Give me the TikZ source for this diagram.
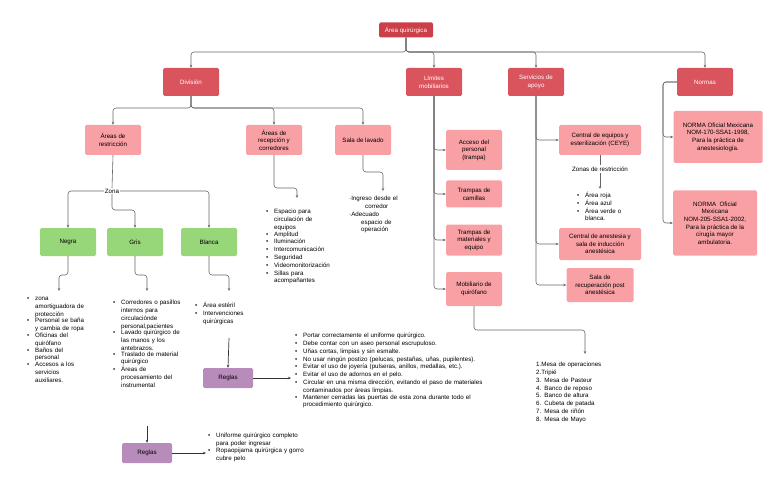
\documentclass[tikz,border=0pt]{standalone}
\usepackage{fontspec}
\setmainfont{Liberation Sans}
\usetikzlibrary{arrows.meta}
\definecolor{cTop}{RGB}{204,62,72}
\definecolor{cLvl}{RGB}{218,84,94}
\definecolor{cPk}{RGB}{249,160,164}
\definecolor{cGr}{RGB}{152,214,122}
\definecolor{cPu}{RGB}{184,140,186}
\newcommand\bitem[2]{\noindent\hbox to 9pt{\,\textbullet\hss}\parbox[t]{#1}{\raggedright\hyphenpenalty=10000\exhyphenpenalty=10000 #2}\par}
\begin{document}
\begin{tikzpicture}[x=1pt,y=-1pt,
 box/.style={rectangle,rounded corners=1.5pt,align=center,font=\fontsize{6.2}{7.6}\selectfont,inner sep=1pt},
 top/.style={box,fill=cTop,text=white,minimum width=54pt,minimum height=15pt},
 lvl/.style={box,fill=cLvl,text=white,minimum width=56pt,minimum height=28pt},
 pk/.style={box,fill=cPk,text=black,minimum width=56pt,minimum height=30pt},
 gr/.style={box,fill=cGr,minimum width=56pt,minimum height=28pt},
 pu/.style={box,fill=cPu,minimum width=50pt,minimum height=20pt},
 txt/.style={font=\fontsize{6.2}{7.8}\selectfont,align=left,inner sep=0pt,anchor=north west,text width=#1},
 ln/.style={draw=gray!80!black,line width=0.6pt,rounded corners=3pt},
 ar/.style={ln,-{Stealth[length=3pt,width=2.5pt]}},
 dk/.style={draw=black!80,line width=0.7pt,-{Stealth[length=3pt,width=2.5pt]}}]
\useasboundingbox (0,0) rectangle (768,497);
\node[top] (aq) at (406,30) {Área quirúrgica};
\node[lvl] (div) at (191,82) {División};
\node[lvl] (lim) at (434,82) {Límites\\mobiliarios};
\node[lvl] (ser) at (536,82) {Servicios de\\apoyo};
\node[lvl] (nor) at (705,82) {Normas};
\foreach \n in {div,lim,ser,nor} \draw[ar] (aq.south) -- (406,52) -| (\n.north);
\node[pk] (res) at (113,140) {Áreas de\\restricción};
\node[pk] (rec) at (274,140) {Áreas de\\recepción y\\corredores};
\node[pk] (lav) at (363,140) {Sala de lavado};
\foreach \n in {res,rec,lav} \draw[ar] (div.south) -- (191,108) -| (\n.north);
% Zona
\node[font=\fontsize{6.2}{7.6}\selectfont,fill=white,inner sep=0.5pt] (zona) at (112,191) {Zona};
\draw[ln] (res.south) -- (zona.north);
\node[gr] (neg) at (68,242) {Negra};
\node[gr] (gri) at (135,242) {Gris};
\node[gr] (bla) at (209,242) {Blanca};
\draw[ar] (zona.west) -| (neg.north);
\draw[ar] (zona.east) -| (bla.north);
\draw[ar] (zona.south) |- (135,210) -- (gri.north);
\coordinate (tn) at (59,291); \coordinate (tg) at (147,291); \coordinate (tb) at (229,291);
\draw[ar] (neg.south) |- (59,275) -- (tn);
\draw[ar] (gri.south) |- (147,275) -- (tg);
\draw[ar] (bla.south) |- (229,275) -- (tb);
\node[txt=70pt] (negt) at (26,297) {\bitem{50pt}{zona amortiguadora de protección}\bitem{50pt}{Personal se baña y cambia de ropa}\bitem{50pt}{Oficinas del quirófano}\bitem{50pt}{Baños del personal}\bitem{50pt}{Accesos a los servicios auxiliares.}};
\node[txt=80pt] (grit) at (112,300) {\bitem{62pt}{Corredores o pasillos internos para circulaciónde personal,pacientes}\bitem{62pt}{Lavado quirúrgico de las manos y los antebrazos.}\bitem{62pt}{Traslado de material quirúrgico}\bitem{62pt}{Áreas de procesamiento del instrumental}};
\node[txt=70pt] (blat) at (194,302) {\bitem{52pt}{Área estéril}\bitem{52pt}{Intervenciones quirúrgicas}};
\node[pu] (rb) at (228,378) {Reglas};
\node[pu] (rg) at (147,453) {Reglas};
\coordinate (rbt) at (229,338); \coordinate (rgt) at (147,426);
\draw[dk] (rbt) -- (rb.north);
\draw[dk] (rgt) -- (rg.north);
\coordinate (rbe) at (291,378); \coordinate (rge) at (206,453);
\draw[dk] (rb.east) -- (rbe);
\draw[dk] (rg.east) -- (rge);
\node[txt=200pt] (rbtx) at (294,333) {\bitem{190pt}{Portar correctamente el uniforme quirúrgico.}\bitem{190pt}{Debe contar con un aseo personal escrupuloso.}\bitem{190pt}{Uñas cortas, limpias y sin esmalte.}\bitem{190pt}{No usar ningún postizo (pelucas, pestañas, uñas, pupilentes).}\bitem{190pt}{Evitar el uso de joyería (pulseras, anillos, medallas, etc.).}\bitem{190pt}{Evitar el uso de adornos en el pelo.}\bitem{190pt}{Circular en una misma dirección, evitando el paso de materiales contaminados por áreas limpias.}\bitem{190pt}{Mantener cerradas las puertas de esta zona durante todo el procedimiento quirúrgico.}};
\node[txt=110pt] (rgtx) at (207,433) {\bitem{88pt}{Uniforme quirúrgico completo para poder ingresar}\bitem{95pt}{Ropaopijama quirúrgica y gorro cubre pelo}};
% recepcion, lavado
\coordinate (rect) at (297,198);
\draw[ar] (rec.south) |- (285,188) -| (rect);
\node[txt=85pt] (rectx) at (265,209) {\bitem{62pt}{Espacio para circulación de equipos}\bitem{72pt}{Amplitud}\bitem{72pt}{Iluminación}\bitem{72pt}{Intercomunicación}\bitem{72pt}{Seguridad}\bitem{72pt}{Videomonitorización}\bitem{62pt}{Sillas para acompañantes}};
\coordinate (lavt) at (383,191);
\draw[ar] (lav.south) |- (373,172) -| (lavt);
\node[txt=70pt] (lavtx) at (349,196) {·Ingreso desde el\\\hspace*{16pt}corredor\\·Adecuado\\\hspace*{12pt}espacio de\\\hspace*{12pt}operación};
% limites
\node[pk,minimum width=56pt,minimum height=40pt] (acc) at (474,150) {Acceso del\\personal\\(trampa)};
\node[pk,minimum height=27pt] (cam) at (474,194) {Trampas de\\camillas};
\node[pk,minimum height=31pt] (mat) at (474,240) {Trampas de\\materiales y\\equipo};
\node[pk,minimum height=34pt] (mob) at (474,289) {Mobiliario de\\quirófano};
\foreach \n in {acc,cam,mat,mob} \draw[ar] (lim.south) |- (\n.west);
\coordinate (mobt) at (585,354);
\draw[ar] (mob.south) |- (585,330) -- (mobt);
\node[txt=100pt] (mobtx) at (536,362) {1.Mesa de operaciones\\2.Tripié\\3. Mesa de Pasteur\\4. Banco de reposo\\5. Banco de altura\\6. Cubeta de patada\\7. Mesa de riñón\\8. Mesa de Mayo};
% servicios
\node[pk,minimum width=82pt] (cey) at (600,140) {Central de equipos y\\esterilización (CEYE)};
\node[pk,minimum width=82pt,minimum height=32pt] (ane) at (600,244) {Central de anestesia y\\sala de inducción\\anestésica};
\node[pk,minimum width=67pt,minimum height=34pt] (rcp) at (600,285) {Sala de\\recuperación post\\anestésica};
\foreach \n in {cey,ane,rcp} \draw[ar] (ser.south) |- (\n.west);
\node[font=\fontsize{6.2}{7.6}\selectfont,fill=white,inner sep=1pt] (zr) at (600,169) {Zonas de restricción};
\draw[ln] (cey.south) -- (zr.north);
\coordinate (zrt) at (600,189);
\draw[ar] (zr.south) -- (zrt);
\node[txt=60pt] (zrtx) at (576,192) {\bitem{48pt}{Área roja}\bitem{48pt}{Área azul}\bitem{48pt}{Área verde o blanca.}};
% normas
\node[pk,minimum width=89pt,minimum height=52pt] (n1) at (718,137) {NORMA Oficial Mexicana\\NOM-170-SSA1-1998,\\Para la práctica de\\anestesiología.};
\node[pk,minimum width=84pt,minimum height=65pt] (n2) at (715,223) {NORMA\ \ Oficial\\Mexicana\\NOM-205-SSA1-2002,\\Para la práctica de la\\cirugía mayor\\ambulatoria.};
\foreach \n in {n1,n2} \draw[ar] (nor.west) -| (663,100) |- (\n.west);
\end{tikzpicture}
\end{document}
